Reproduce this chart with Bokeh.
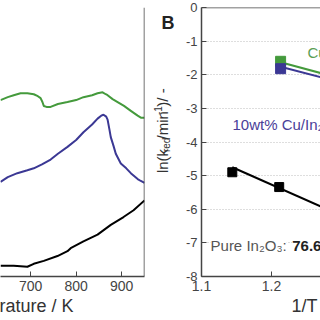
import numpy as np
from bokeh.plotting import figure
from bokeh.layouts import row
from bokeh.models import Span, Label, FixedTicker, Range1d, Title
from bokeh.embed import file_html
from bokeh.resources import INLINE

FONT = "Liberation Sans"

# ---- Panel A: reduction profiles vs temperature (signal in a.u.) ----
temp_green = [634, 650, 663, 678, 693, 707, 716, 722, 726, 729, 735, 744, 760, 781, 800,
              816, 835, 847, 858, 865, 869, 880, 891, 905, 920, 935, 942, 950]
sig_green = [1.81, 1.84, 1.86, 1.88, 1.88, 1.87, 1.85, 1.83, 1.79, 1.75, 1.74, 1.74, 1.77, 1.79, 1.81,
             1.84, 1.86, 1.88, 1.89, 1.87, 1.86, 1.82, 1.79, 1.75, 1.70, 1.65, 1.63, 1.63]

temp_blue = [634, 650, 671, 693, 707, 725, 744, 760, 781, 800, 816, 835, 847, 855, 860,
             866, 869, 873, 876, 882, 887, 898, 910, 920, 935, 942, 950]
sig_blue = [0.97, 1.02, 1.06, 1.09, 1.11, 1.15, 1.20, 1.26, 1.33, 1.40, 1.48, 1.56, 1.62, 1.65, 1.66,
            1.64, 1.61, 1.51, 1.43, 1.34, 1.26, 1.16, 1.11, 1.06, 1.00, 0.98, 0.96]

temp_black = [634, 663, 693, 707, 729, 759, 781, 788, 816, 847, 876, 904, 926, 950]
sig_black = [0.11, 0.11, 0.10, 0.13, 0.16, 0.21, 0.26, 0.29, 0.36, 0.43, 0.53, 0.61, 0.68, 0.78]

temp_ticks = [700, 800, 900]

# ---- Panel B: Arrhenius plots, x = 1000/T (K^-1), y = ln(k_red/min^-1) ----
invT_pure = [1.144, 1.211]
lnk_pure = [-4.90, -5.34]
ea_pure = 76.6          # kJ/mol
lnA_pure = 5.79

invT_cu = [1.213]
lnk_cu = [-1.60]
ea_cu = 46.6
lnA_cu = 5.17

invT_10cu = [1.213]
lnk_10cu = [-1.82]
ea_10cu = 44.9
lnA_10cu = 4.79

lnk_ticks = [0, -1, -2, -3, -4, -5, -6, -7, -8]
invT_ticks = [1.1, 1.2, 1.3]

R = 8.314  # J/(mol K); with Ea in kJ/mol and x = 1000/T the slope is -Ea/R


def fit_line(lnA, ea, x0, x1):
    xs = np.array([x0, x1])
    return xs, lnA - ea / R * xs


AXIS_COLOR = "#444444"
GREEN = "#449a3c"
BLUE = "#3b3894"
TEXT = "#333333"


def style_axis(ax, size="13px"):
    ax.axis_line_color = AXIS_COLOR
    ax.axis_line_width = 1.5
    ax.major_tick_line_color = AXIS_COLOR
    ax.major_tick_in = 5
    ax.major_tick_out = 0
    ax.minor_tick_line_color = None
    ax.major_label_text_font = FONT
    ax.major_label_text_font_size = size
    ax.major_label_text_color = "#444444"


# Panel A
left = figure(width=150, height=320, x_range=(634, 950), y_range=(0, 2.76),
              output_backend="svg", toolbar_location=None, y_axis_location=None,
              min_border_left=0, min_border_right=6, min_border_top=0, min_border_bottom=44)
left.outline_line_color = None
left.grid.visible = False
left.xaxis.ticker = FixedTicker(ticks=temp_ticks)
style_axis(left.xaxis[0], "14px")
left.xaxis.major_label_standoff = 4
left.add_layout(Span(location=950, dimension="height", line_color=AXIS_COLOR, line_width=1.5))

left.line(temp_green, sig_green, line_color=GREEN, line_width=2)
left.line(temp_blue, sig_blue, line_color=BLUE, line_width=2)
left.line(temp_black, sig_black, line_color="black", line_width=2)

left.add_layout(Title(text="Temperature / K", align="right", offset=71, standoff=0,
                      text_font=FONT, text_font_size="18px", text_font_style="normal",
                      text_color=TEXT), "below")

# Strip between the panels: panel letter and rotated y title of panel B
mid = figure(width=32, height=320, x_range=Range1d(150, 182), y_range=Range1d(320, 0),
             output_backend="svg", toolbar_location=None,
             x_axis_location=None, y_axis_location=None,
             min_border_left=0, min_border_right=0, min_border_top=0, min_border_bottom=0)
mid.outline_line_color = None
mid.grid.visible = False
mid.add_layout(Label(x=161, y=6, text="B", text_baseline="top",
                     text_font=FONT, text_font_size="18px", text_font_style="bold",
                     text_color="#222222"))

# ln(k_red / min^-1) / - , reading bottom to top
rot = np.pi / 2
ylab_parts = [
    (162, 197, "ln(k", "15px"),
    (166, 172, "red", "10px"),
    (162, 157, "/min", "15px"),
    (157, 128, "-1", "10px"),
    (162, 118, ")/ -", "15px"),
]
for x, y, t, fs in ylab_parts:
    mid.add_layout(Label(x=x, y=y, text=t, angle=rot, text_align="left",
                         text_baseline="middle", text_font=FONT, text_font_size=fs,
                         text_color=TEXT))

# Panel B
right = figure(width=138, height=320, x_range=(1.1, 1.27), y_range=(-8, 0),
               output_backend="svg", toolbar_location=None,
               min_border_left=19, min_border_right=0, min_border_top=7, min_border_bottom=44)
right.outline_line_color = None
right.xgrid.visible = False
right.ygrid.ticker = FixedTicker(ticks=lnk_ticks[1:-1])
right.ygrid.grid_line_color = "#bdbdbd"
right.ygrid.grid_line_dash = "1 2"
right.ygrid.grid_line_width = 1
right.xaxis.ticker = FixedTicker(ticks=invT_ticks)
right.yaxis.ticker = FixedTicker(ticks=lnk_ticks)
right.yaxis.major_label_overrides = {t: f"{t}" for t in lnk_ticks}
style_axis(right.xaxis[0], "14px")
style_axis(right.yaxis[0], "13px")
right.yaxis.major_label_standoff = 4
right.xaxis.major_label_standoff = 4
right.add_layout(Span(location=0, dimension="width", line_color=AXIS_COLOR, line_width=1.5))

xs, ys = fit_line(lnA_pure, ea_pure, invT_pure[0], 1.30)
right.line(xs, ys, line_color="black", line_width=2)
right.scatter(invT_pure, lnk_pure, marker="square", size=9, color="black")

xs, ys = fit_line(lnA_cu, ea_cu, invT_cu[0], 1.30)
right.line(xs, ys, line_color=GREEN, line_width=2)
xs, ys = fit_line(lnA_10cu, ea_10cu, invT_10cu[0], 1.30)
right.line(xs, ys, line_color=BLUE, line_width=2)
right.scatter(invT_cu, lnk_cu, marker="square", size=10, color=GREEN)
right.scatter(invT_10cu, lnk_10cu, marker="square", size=10, color=BLUE)

right.add_layout(Label(x=1.2514, y=-1.34, text="Cu/In₂O₃", text_baseline="middle",
                       text_font=FONT, text_font_size="15px", text_color="#5a9e55"))
right.add_layout(Label(x=1.1443, y=-3.48, text="10wt% Cu/In₂O₃", text_baseline="middle",
                       text_font=FONT, text_font_size="15px", text_color="#4a4098"))
right.add_layout(Label(x=1.1129, y=-7.08, text="Pure In₂O₃:", text_baseline="middle",
                       text_font=FONT, text_font_size="15px", text_color="#555555",
                       background_fill_color="white"))
right.add_layout(Label(x=1.2296, y=-7.08, text=f"{ea_pure}", text_baseline="middle",
                       text_font=FONT, text_font_size="15px", text_font_style="bold",
                       text_color="#222222", background_fill_color="white"))

right.add_layout(Title(text="1/T / 10⁻³ K⁻¹", align="left", offset=90, standoff=0,
                       text_font=FONT, text_font_size="18px", text_font_style="normal",
                       text_color=TEXT), "below")

p = row(left, mid, right)
open("out.html", "w").write(file_html(p, INLINE))
